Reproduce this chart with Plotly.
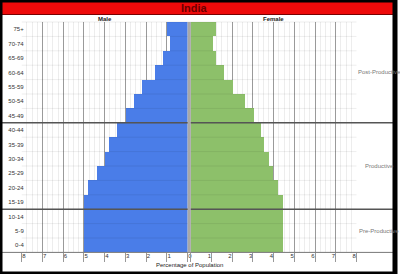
import plotly.graph_objects as go

# ---- data ----
age_groups = ["0-4", "5-9", "10-14", "15-19", "20-24", "25-29", "30-34", "35-39",
              "40-44", "45-49", "50-54", "55-59", "60-64", "65-69", "70-74", "75+"]
male_pct = [5.0, 5.0, 5.0, 5.0, 4.8, 4.4, 4.0, 3.8, 3.4, 3.0, 2.6, 2.2, 1.6, 1.2, 0.87, 1.03]
female_pct = [4.43, 4.43, 4.43, 4.43, 4.2, 3.97, 3.76, 3.54, 3.37, 3.02, 2.62, 2.02, 1.59, 1.19, 1.07, 1.19]
male_ticks = [8, 7, 6, 5, 4, 3, 2, 1, 0]
female_ticks = [1, 2, 3, 4, 5, 6, 7, 8]
title = "India"
x_title = "Percentage of Population"
side_titles = ["Male", "Female"]
bands = ["Post-Productive", "Productive", "Pre-Productive"]
band_rows = [(9, 16), (3, 9), (0, 3)]  # row index ranges (from bottom)

W, H = 400, 274
FONT = "Liberation Sans"
BLUE = "#4a7de8"
GREEN = "#8dc06a"

def px(x):
    return x / W

def py(y):
    return 1 - y / H

plot_top, plot_bot = 22, 252.4
male_l, male_r = 22, 190
fem_l, fem_r = 193.3, 361
ydom = [py(plot_bot), py(plot_top)]
n = len(age_groups)

fig = go.Figure()
fig.add_trace(go.Bar(y=age_groups, x=male_pct, orientation="h", marker=dict(color=BLUE, line=dict(width=0)),
                     xaxis="x", yaxis="y", showlegend=False))
fig.add_trace(go.Bar(y=age_groups, x=female_pct, orientation="h", marker=dict(color=GREEN, line=dict(width=0)),
                     xaxis="x2", yaxis="y2", showlegend=False))

common_x = dict(
    showgrid=True, gridcolor="rgba(0,0,0,0.35)", gridwidth=1.2,
    minor=dict(dtick=0.25, tick0=0, showgrid=True, gridcolor="rgba(0,0,0,0.07)", gridwidth=1),
    layer="above traces", zeroline=False, showline=False,
    ticks="outside", ticklen=9, tickcolor="#999", tickwidth=1.2,
    tickfont=dict(family=FONT, size=6, color="#333"),
    ticklabelstandoff=-3, anchor="y", fixedrange=True,
)

fig.update_layout(
    width=W, height=H, margin=dict(l=0, r=0, t=0, b=0),
    paper_bgcolor="white", plot_bgcolor="white",
    bargap=0, barmode="overlay",
    xaxis=dict(domain=[px(male_l), px(male_r)], range=[8, 0], tickmode="array",
               tickvals=male_ticks, ticktext=[str(v) for v in male_ticks],
               ticklabelposition="outside right", **common_x),
    xaxis2=dict(domain=[px(fem_l), px(fem_r)], range=[0, 8], tickmode="array",
                tickvals=[0] + female_ticks, ticktext=[""] + [str(v) for v in female_ticks],
                ticklabelposition="outside left", **{**common_x, "anchor": "y2"}),
    yaxis=dict(domain=ydom, type="category", categoryorder="array", categoryarray=age_groups,
               range=[-0.5, n - 0.5], showgrid=False, zeroline=False, ticks="",
               tickfont=dict(family=FONT, size=6, color="#333"), ticklabelstandoff=-3,
               anchor="x", fixedrange=True),
    yaxis2=dict(domain=ydom, type="category", categoryorder="array", categoryarray=age_groups,
                range=[-0.5, n - 0.5], showgrid=False, zeroline=False, ticks="",
                showticklabels=False, anchor="x2", fixedrange=True),
    font=dict(family=FONT),
)

shapes = []
row_h = (plot_bot - plot_top) / n
# light row boundaries
for k in range(n + 1):
    yy = plot_bot - k * row_h
    shapes.append(dict(type="line", xref="paper", yref="paper", x0=px(male_l), x1=px(fem_r),
                       y0=py(yy), y1=py(yy), line=dict(color="rgba(0,0,0,0.07)", width=1), layer="above"))
# band separators (dark)
for lo, hi in band_rows:
    if lo > 0:
        yy = plot_bot - lo * row_h
        shapes.append(dict(type="line", xref="paper", yref="paper", x0=0, x1=1,
                           y0=py(yy), y1=py(yy), line=dict(color="#555", width=1.5), layer="above"))
# bottom axis line
shapes.append(dict(type="line", xref="paper", yref="paper", x0=0, x1=1, y0=py(plot_bot), y1=py(plot_bot),
                   line=dict(color="#777", width=1), layer="above"))
# grey centre band
shapes.append(dict(type="rect", xref="paper", yref="paper", x0=px(male_r), x1=px(fem_l),
                   y0=py(plot_bot), y1=py(plot_top), fillcolor="#a8a8a8", line=dict(width=0), layer="above"))
# title bar
shapes.append(dict(type="rect", xref="paper", yref="paper", x0=0, x1=1, y0=py(14.5), y1=py(1.5),
                   fillcolor="#ee0a0a", line=dict(width=0), layer="above"))
shapes.append(dict(type="line", xref="paper", yref="paper", x0=0, x1=1, y0=py(14.5), y1=py(14.5),
                   line=dict(color="#7a0000", width=1.2), layer="above"))
# outer frame
shapes.append(dict(type="rect", xref="paper", yref="paper", x0=0, x1=1, y0=0, y1=1,
                   line=dict(color="black", width=5), layer="above"))
fig.update_layout(shapes=shapes)

ann = []
ann.append(dict(text=f"<b>{title}</b>", x=px(197), y=py(8), xref="paper", yref="paper", showarrow=False,
                font=dict(family=FONT, size=11, color="#6b0000"), xanchor="center", yanchor="middle"))
ann.append(dict(text=f"<b>{side_titles[0]}</b>", x=px((male_l + male_r) / 2), y=py(18.5), xref="paper", yref="paper",
                showarrow=False, font=dict(family=FONT, size=6, color="#222"), xanchor="center", yanchor="middle"))
ann.append(dict(text=f"<b>{side_titles[1]}</b>", x=px((fem_l + fem_r) / 2), y=py(18.5), xref="paper", yref="paper",
                showarrow=False, font=dict(family=FONT, size=6, color="#222"), xanchor="center", yanchor="middle"))
ann.append(dict(text=x_title, x=px(192), y=py(264.5), xref="paper", yref="paper", showarrow=False,
                font=dict(family=FONT, size=6, color="#222"), xanchor="center", yanchor="middle"))
for label, (lo, hi) in zip(bands, band_rows):
    yc = plot_bot - (lo + hi) / 2 * row_h
    ann.append(dict(text=label, x=px(384), y=py(yc), xref="paper", yref="paper", showarrow=False,
                    font=dict(family=FONT, size=6, color="#777"), xanchor="center", yanchor="middle"))
fig.update_layout(annotations=ann)

fig.write_html("out.html")
